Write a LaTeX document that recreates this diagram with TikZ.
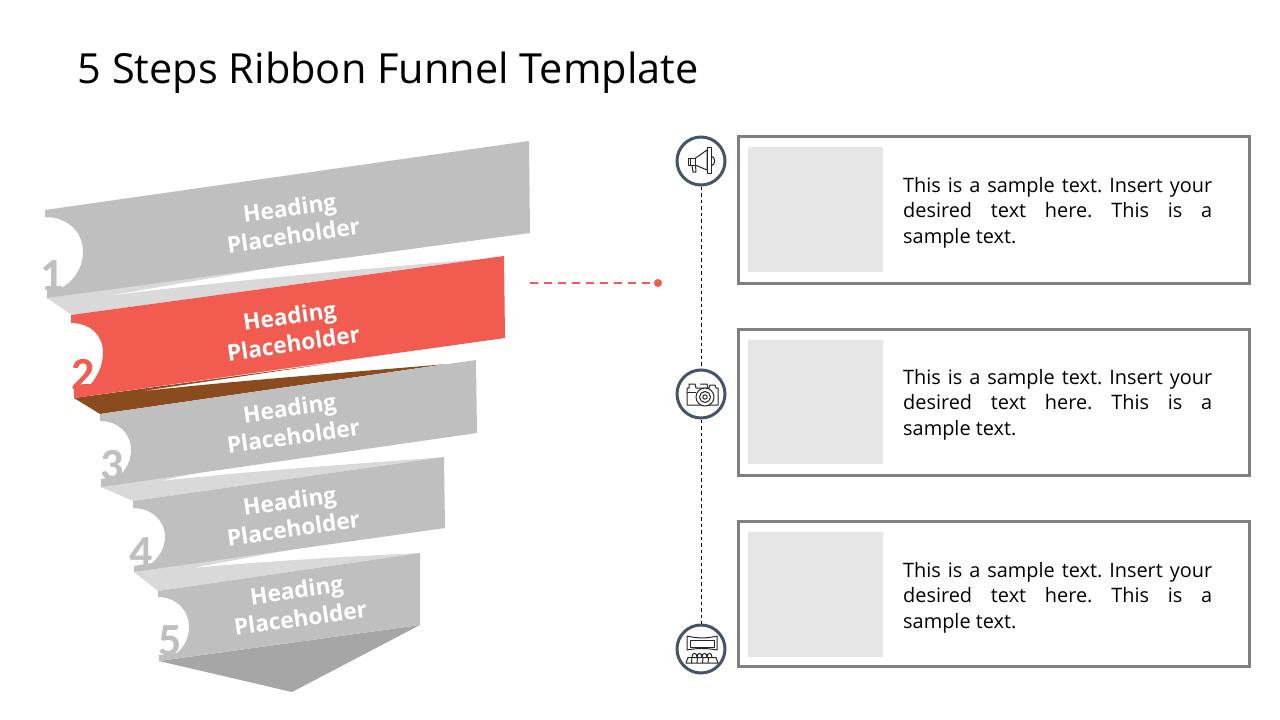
\documentclass[tikz,border=0pt]{standalone}
\usepackage{fontspec}
\setmainfont{Open Sans}
\newfontfamily\digitfont{Carlito}
\definecolor{ribgray}{HTML}{BFBFBF}
\definecolor{foldgray}{HTML}{D9D9D9}
\definecolor{tipgray}{HTML}{A6A6A6}
\definecolor{ribred}{HTML}{F15B50}
\definecolor{foldbrown}{HTML}{8A4B1E}
\definecolor{boxline}{HTML}{7F7F7F}
\definecolor{boxfill}{HTML}{E7E6E6}
\definecolor{ringblue}{HTML}{44546A}
\tikzset{
  heading/.style={text=white,font=\fontsize{22.7}{28}\selectfont\bfseries,align=center,rotate=8,inner sep=0pt},
  stepnum/.style={font=\fontsize{46}{46}\selectfont\bfseries\digitfont,inner sep=0pt},
  card/.style={draw=boxline,line width=3pt,fill=white,minimum width=511pt,inner sep=0pt},
  photo/.style={fill=boxfill,minimum width=135pt,inner sep=0pt},
  body/.style={anchor=west,text width=309pt,align=justify,inner sep=0pt,font=\fontsize{19.9}{25.5}\selectfont},
  ring/.style={circle,draw=ringblue,line width=3pt,fill=white,minimum size=48pt,inner sep=0pt},
  icon/.style={draw=black!85,line width=1pt,fill=none,line join=round},
  timeline/.style={draw=black,line width=1pt,dash pattern=on 3.5pt off 3pt},
  reddash/.style={draw=ribred,line width=1.6pt,dash pattern=on 8pt off 6pt},
}
\newcommand{\cardtext}{\frenchspacing This is a sample text. Insert your\linebreak desired text here. This is a\linebreak sample text.}
\begin{document}
\begin{tikzpicture}[x=1pt,y=-1pt]
\useasboundingbox (0,0) rectangle (1280,720);
\fill[white] (0,0) rectangle (1280,720);
\node[anchor=base west,inner sep=0pt,font=\fontsize{41.5}{48}\selectfont] (title) at (77.5,83) {5 Steps Ribbon Funnel Template};

% folds
\fill[foldgray] (47,298) -- (72,315) -- (480,259) .. controls (400,266) and (230,280) .. (107,296) -- (340,256) -- cycle;
\fill[foldbrown] (74,398) -- (100,414) -- (447,364) .. controls (380,370) and (240,380) .. (135,392) -- (340,362) -- cycle;
\fill[foldgray] (101,487) -- (133,501) -- (444,457) .. controls (370,463) and (260,470) .. (160,481) -- (300,450) -- cycle;
\fill[foldgray] (134,572) -- (158,591) -- (420,553) .. controls (360,556) and (280,560) .. (192,568) -- (300,548) -- cycle;
\fill[tipgray] (159,661) -- (420,625) -- (292,692) -- cycle;

% ribbons
\fill[ribgray] (45,210) -- (529,141) -- (530,233) -- (47,298) -- (47,290) -- (63,287)
  .. controls (76,279) and (83,266) .. (83,252) .. controls (83,232) and (68,217) .. (45,217) -- cycle;
\fill[ribred] (71,315) -- (504,256) -- (505,338) -- (74,398) -- (74,387) -- (90,385)
  .. controls (98,376) and (103,365) .. (103,352) .. controls (103,335) and (90,323) .. (71,323) -- cycle;
\fill[ribgray] (100,414) -- (476,360) -- (477,433) -- (101,487) -- (101,479) -- (118,477)
  .. controls (126,470) and (131,461) .. (131,450) .. controls (131,433) and (118,421) .. (100,421) -- cycle;
\fill[ribgray] (133,501) -- (444,457) -- (445,528) -- (134,572) -- (134,566) -- (152,563)
  .. controls (160,556) and (165,547) .. (165,537) .. controls (165,520) and (151,508) .. (133,508) -- cycle;
\fill[ribgray] (158,591) -- (420,553) -- (420,625) -- (159,661) -- (159,655) -- (177,653)
  .. controls (185,646) and (189,637) .. (189,627) .. controls (189,610) and (176,597) .. (158,597) -- cycle;

% digits
\node[stepnum,text=ribgray] (n1) at (52.5,276) {1};
\node[stepnum,text=ribred] (n2) at (83,374) {2};
\node[stepnum,text=ribgray] (n3) at (112,466) {3};
\node[stepnum,text=ribgray] (n4) at (141.5,553) {4};
\node[stepnum,text=ribgray] (n5) at (170,641) {5};

% headings
\node[heading] (h1) at (291.5,221.5) {Heading\\Placeholder};
\node[heading] (h2) at (291.5,329.5) {Heading\\Placeholder};
\node[heading] (h3) at (291.5,422) {Heading\\Placeholder};
\node[heading] (h4) at (291.5,514.5) {Heading\\Placeholder};
\node[heading] (h5) at (298.5,604) {Heading\\Placeholder};

% right column
\node[card,minimum height=147pt] (c1) at (993.5,210) {};
\node[card,minimum height=146pt] (c2) at (993.5,402.5) {};
\node[card,minimum height=145pt] (c3) at (993.5,594) {};
\node[photo,minimum height=125pt] (p1) at (815.5,209.5) {};
\node[photo,minimum height=124pt] (p2) at (815.5,402) {};
\node[photo,minimum height=125pt] (p3) at (815.5,594.5) {};
\node[body] (t1) at (903,212.5) {\cardtext};
\node[body] (t2) at (903,404.5) {\cardtext};
\node[body] (t3) at (903,597.5) {\cardtext};

% timeline
\node[ring] (r1) at (701,161) {};
\node[ring] (r2) at (701,394) {};
\node[ring] (r3) at (701,649) {};
\draw[timeline] (r1) -- (r2);
\draw[timeline] (r2) -- (r3);
\coordinate (leadstart) at (530,283);
\node[circle,fill=ribred,minimum size=8pt,inner sep=0pt] (leaddot) at (658,283) {};
\draw[reddash] (leadstart) -- (leaddot);

% megaphone icon
\draw[icon] (688,158) rectangle (695,165);
\draw[icon] (690.5,158) -- (690.5,165);
\draw[icon] (695,158.5) -- (707,150) -- (707,170) -- (695,165);
\draw[icon] (707,147.5) rectangle (711,173);
\draw[icon] (711,156) .. controls (716,157) and (716,165) .. (711,166);
\draw[icon] (692,165) -- (693,172) -- (696,172) -- (695.5,165);
% camera icon
\draw[icon] (687,388) -- (689,388) -- (689,384) -- (695,384) -- (696,388) -- (709,388) -- (710,385) -- (715,385) -- (716,388) -- (718,388) -- (718,405) -- (687,405) -- cycle;
\draw[icon,fill=white] (705,397) circle (9);
\draw[icon] (705,397) circle (5.5);
\draw[icon] (705,397) circle (2.2);
\draw[icon] (687,392) -- (696,392);
\draw[icon] (700,384) -- (707,384) -- (708,388);
% computer icon
\draw[icon] (687,636) .. controls (697,638.5) and (707,638.5) .. (717,636) -- (717,650) .. controls (707,648) and (697,648) .. (687,650) -- cycle;
\draw[icon] (690,640) rectangle (714,647);
\draw[icon] (686,663) -- (718,663) -- (716,657.5) -- (688,657.5) -- cycle;
\foreach \kx in {692,697.5,703,708.5}{\draw[icon] (\kx,657.5) -- (\kx-0.5,663);}
\foreach \kx in {692,697,702,707}{\draw[icon] (\kx,657.5) .. controls (\kx-0.5,652) and (\kx+5.5,652) .. (\kx+5,657.5);}
\end{tikzpicture}
\end{document}
